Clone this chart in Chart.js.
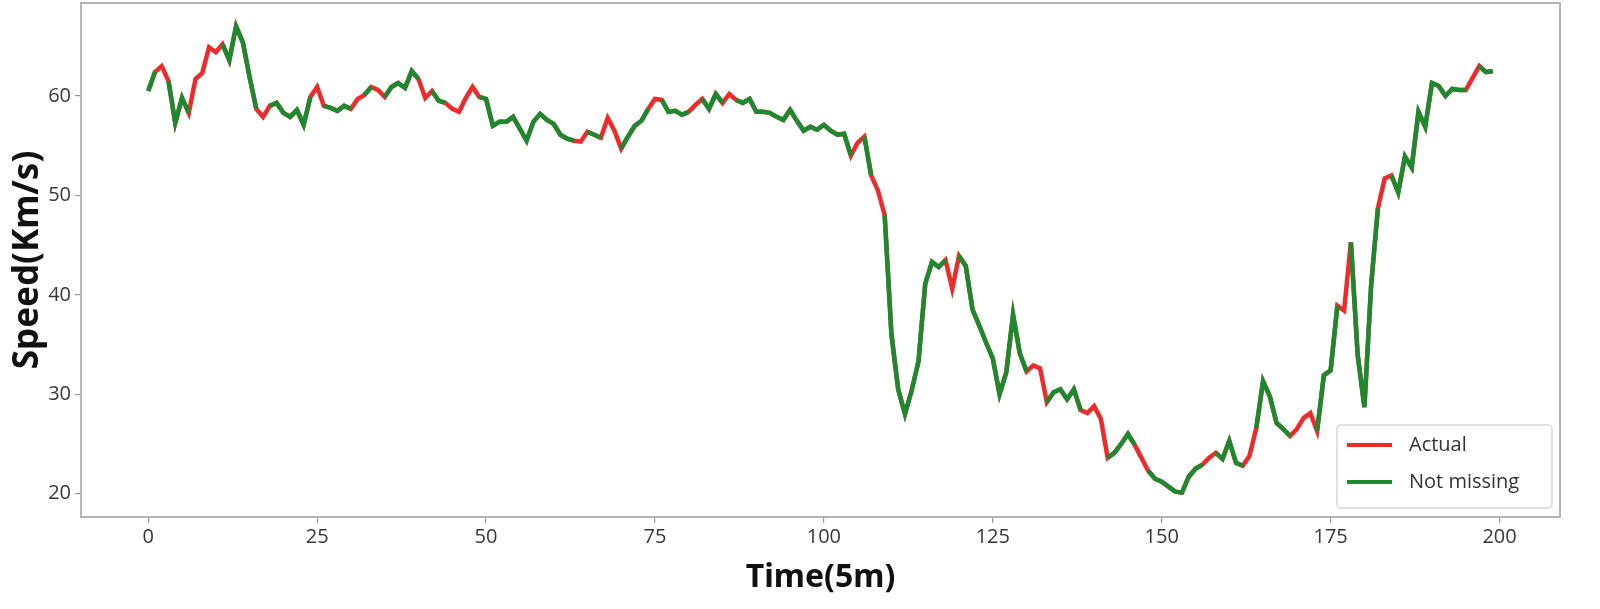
<!DOCTYPE html>
<html>
<head>
<meta charset="utf-8">
<script src="https://cdn.jsdelivr.net/npm/chart.js@4.4.1/dist/chart.umd.min.js"></script>
<style>
  html, body { margin: 0; padding: 0; background: #ffffff; }
  #wrap { width: 1600px; height: 609px; position: relative; }
</style>
</head>
<body>
<div id="wrap"><canvas id="c" width="1600" height="609"></canvas></div>
<script>
// ---- data ----
const timeSteps = Array.from({length: 200}, (_, i) => i);
const actualSpeed = [
  60.5, 62.4, 63.0, 61.5, 57.3, 59.8, 58.3, 61.7, 62.3, 64.9,
  64.4, 65.2, 63.6, 67.0, 65.4, 61.9, 58.7, 57.9, 59.0, 59.3,
  58.3, 57.9, 58.6, 57.1, 59.9, 60.9, 59.0, 58.8, 58.5, 59.0,
  58.7, 59.7, 60.1, 60.9, 60.6, 59.9, 60.9, 61.3, 60.8, 62.5,
  61.7, 59.8, 60.5, 59.5, 59.3, 58.7, 58.4, 59.8, 60.9, 59.9,
  59.7, 57.0, 57.4, 57.4, 57.9, 56.7, 55.5, 57.4, 58.2, 57.6,
  57.2, 56.1, 55.7, 55.5, 55.4, 56.4, 56.1, 55.8, 57.8, 56.5,
  54.7, 55.9, 57.0, 57.5, 58.7, 59.7, 59.6, 58.4, 58.5, 58.1,
  58.4, 59.1, 59.7, 58.7, 60.2, 59.3, 60.2, 59.6, 59.3, 59.7,
  58.4, 58.4, 58.3, 57.9, 57.6, 58.6, 57.5, 56.5, 56.9, 56.6,
  57.1, 56.5, 56.1, 56.2, 54.0, 55.3, 55.9, 52.0, 50.5, 48.0,
  36.0, 30.5, 28.0, 30.4, 33.3, 41.1, 43.3, 42.8, 43.5, 40.6,
  43.9, 42.9, 38.5, 36.9, 35.2, 33.6, 30.0, 32.2, 38.0, 34.1,
  32.3, 32.9, 32.6, 29.2, 30.2, 30.5, 29.5, 30.5, 28.4, 28.1,
  28.8, 27.5, 23.6, 24.1, 25.0, 26.0, 24.9, 23.6, 22.3, 21.5,
  21.2, 20.7, 20.2, 20.1, 21.7, 22.5, 22.9, 23.6, 24.1, 23.5,
  25.3, 23.1, 22.8, 23.8, 26.6, 31.3, 29.8, 27.1, 26.5, 25.8,
  26.5, 27.6, 28.1, 26.3, 31.9, 32.4, 38.9, 38.4, 45.3, 34.0,
  28.7, 41.0, 48.7, 51.7, 52.0, 50.3, 53.9, 52.8, 58.4, 56.9,
  61.3, 61.0, 60.0, 60.7, 60.6, 60.6, 61.8, 63.0, 62.4, 62.5
];
// indices where the value is missing (only the "Actual" line is drawn there)
const missingIdx = [2, 7, 8, 9, 10, 17, 25, 31, 34, 41, 45, 46, 48, 64, 68, 69, 75, 81, 86,
  105, 108, 119, 131, 132, 139, 140, 141, 147, 157, 163, 170, 171, 172, 177, 183, 196];
const xTickValues = [0, 25, 50, 75, 100, 125, 150, 175, 200];
const yTickValues = [20, 30, 40, 50, 60];
const seriesLabels = ['Actual', 'Not missing'];
const xTitle = 'Time(5m)';
const yTitle = 'Speed(Km/s)';

// ---- build ----
const missingSet = new Set(missingIdx);
const actualPts = timeSteps.map((t, i) => ({x: t, y: actualSpeed[i]}));
const notMissingPts = timeSteps.map((t, i) => ({x: t, y: missingSet.has(i) ? null : actualSpeed[i]}));

const RED = '#ee2a2a';
const GREEN = '#1b8a2e';

const framePlugin = {
  id: 'frame',
  afterDraw(chart) {
    const {ctx, chartArea: a} = chart;
    ctx.save();
    ctx.strokeStyle = '#b5b5b5';
    ctx.lineWidth = 2;
    ctx.strokeRect(a.left, a.top, a.right - a.left, a.bottom - a.top);
    // legend
    const bw = 215, bh = 83;
    const bx = a.right - 8 - bw, by = a.bottom - 9 - bh;
    ctx.fillStyle = 'rgba(255,255,255,0.85)';
    ctx.strokeStyle = '#d6d6d6';
    ctx.lineWidth = 1.5;
    ctx.beginPath();
    if (ctx.roundRect) ctx.roundRect(bx, by, bw, bh, 4); else ctx.rect(bx, by, bw, bh);
    ctx.fill();
    ctx.stroke();
    const ds = chart.data.datasets;
    const rows = [by + 20, by + 57];
    ctx.font = '20px "Open Sans", "Noto Sans", sans-serif';
    ctx.textBaseline = 'middle';
    ctx.textAlign = 'left';
    ds.forEach((d, k) => {
      ctx.strokeStyle = d.borderColor;
      ctx.lineWidth = 4;
      ctx.beginPath();
      ctx.moveTo(bx + 10, rows[k]);
      ctx.lineTo(bx + 55, rows[k]);
      ctx.stroke();
      ctx.fillStyle = '#333333';
      ctx.fillText(d.label, bx + 72, rows[k]);
    });
    ctx.restore();
  }
};

new Chart(document.getElementById('c'), {
  type: 'line',
  data: {
    datasets: [
      { label: seriesLabels[0], data: actualPts, borderColor: RED, borderWidth: 4.5,
        pointRadius: 0, tension: 0, spanGaps: false, order: 2 },
      { label: seriesLabels[1], data: notMissingPts, borderColor: GREEN, borderWidth: 4.5,
        pointRadius: 0, tension: 0, spanGaps: false, order: 1 }
    ]
  },
  options: {
    responsive: false,
    animation: false,
    devicePixelRatio: 1,
    layout: { padding: { left: 0, top: 3, right: 40, bottom: 0 } },
    plugins: { legend: { display: false }, tooltip: { enabled: false } },
    scales: {
      x: {
        type: 'linear',
        min: -9.95, max: 208.95,
        afterBuildTicks: s => { s.ticks = xTickValues.map(v => ({value: v})); },
        afterFit: s => { s.height = 92; s.paddingLeft = 0; s.paddingRight = 0; },
        grid: { drawOnChartArea: false, tickLength: 6, tickColor: '#999', lineWidth: 1.2 },
        border: { display: false },
        ticks: { color: '#383838', font: { family: '"Open Sans", "Noto Sans", sans-serif', size: 20 },
                 padding: 2, maxRotation: 0, autoSkip: false },
        title: { display: true, text: xTitle, color: '#111',
                 font: { family: '"Noto Sans", "Open Sans", sans-serif', size: 32, weight: 'bold' },
                 padding: { top: 0, bottom: 12 } }
      },
      y: {
        type: 'linear',
        min: 17.65, max: 69.35,
        afterBuildTicks: s => { s.ticks = yTickValues.map(v => ({value: v})); },
        afterFit: s => { s.width = 81; s.paddingTop = 0; s.paddingBottom = 0; },
        grid: { drawOnChartArea: false, tickLength: 6, tickColor: '#999', lineWidth: 1.2 },
        border: { display: false },
        ticks: { color: '#383838', font: { family: '"Open Sans", "Noto Sans", sans-serif', size: 20 },
                 padding: 4, autoSkip: false },
        title: { display: true, text: yTitle, color: '#111',
                 font: { family: '"Noto Sans", "Open Sans", sans-serif', size: 35, weight: 'bold' },
                 padding: { top: 7, bottom: 0 } }
      }
    }
  },
  plugins: [framePlugin]
});
</script>
</body>
</html>
